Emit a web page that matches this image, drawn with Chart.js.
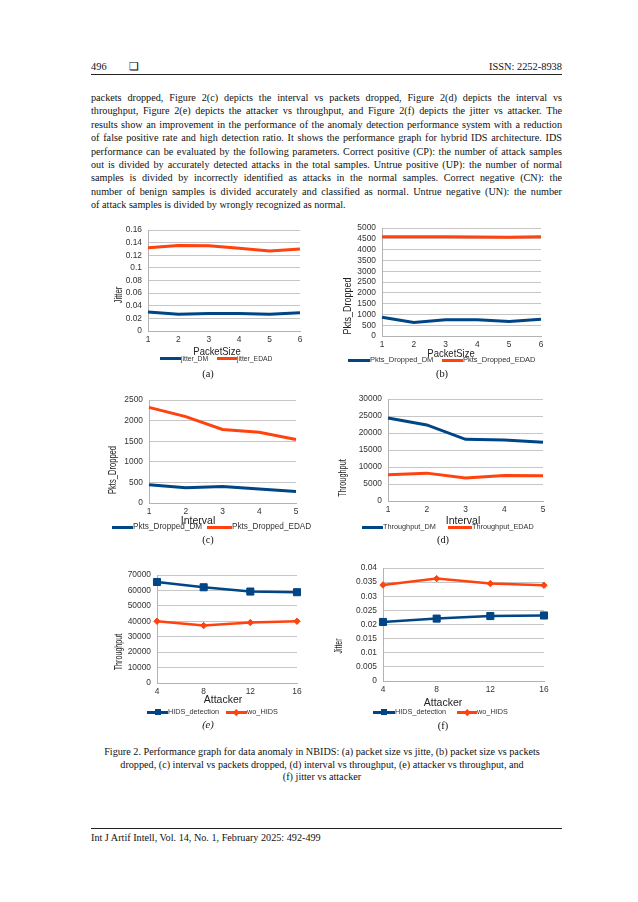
<!DOCTYPE html>
<html>
<head>
<meta charset="utf-8">
<script src="https://cdn.jsdelivr.net/npm/chart.js@4.4.1/dist/chart.umd.min.js"></script>
<style>
  html, body { margin: 0; padding: 0; background: #fff; }
  #page { position: relative; width: 638px; height: 902px; overflow: hidden; background: #fff; }
  .t { position: absolute; white-space: nowrap; line-height: 1; }
  .serif { font-family: "Liberation Serif", "Times New Roman", serif; color: #111; }
  .sans { font-family: "Liberation Sans", Arial, sans-serif; color: #222; }
  .para { position: absolute; left: 91px; width: 471px; font-family: "Liberation Serif", serif;
          font-size: 10.2px; line-height: 1; color: #111; white-space: nowrap; }
  .just { text-align: justify; text-align-last: justify; white-space: normal; }
  .rule { position: absolute; background: #222; }
  canvas { position: absolute; }
</style>
</head>
<body>
<div id="page">
  <div class="t serif" style="left:91px;top:62px;font-size:10.4px">496</div>
  <div class="t" style="left:129px;top:61px;font-size:11px;font-family:'DejaVu Sans'">❏</div>
  <div class="t serif" style="right:76px;top:62px;font-size:10.4px">ISSN: 2252-8938</div>
  <div class="rule" style="left:91px;top:74px;width:471px;height:1.3px"></div>

  <div id="body"></div>

  <canvas id="chA"></canvas>
  <canvas id="chB"></canvas>
  <canvas id="chC"></canvas>
  <canvas id="chD"></canvas>
  <canvas id="chE"></canvas>
  <canvas id="chF"></canvas>

  <div id="overlay"></div>

  <div class="t serif" style="left:322px;top:752px;font-size:10.2px;transform:translate(-50%,-50%)">Figure 2. Performance graph for data anomaly in NBIDS: (a) packet size vs jitte, (b) packet size vs packets</div>
  <div class="t serif" style="left:322px;top:764.5px;font-size:10.2px;transform:translate(-50%,-50%)">dropped, (c) interval vs packets dropped, (d) interval vs throughput, (e) attacker vs throughput, and</div>
  <div class="t serif" style="left:322px;top:777px;font-size:10.2px;transform:translate(-50%,-50%)">(f) jitter vs attacker</div>

  <div class="rule" style="left:91px;top:827.5px;width:471px;height:1.2px"></div>
  <div class="t serif" style="left:91px;top:833px;font-size:10.2px">Int J Artif Intell, Vol. 14, No. 1, February 2025: 492-499</div>
</div>

<script>
// ---- data ----
const packetSizes = ["1", "2", "3", "4", "5", "6"];
const jitterDM = [0.030, 0.0267, 0.0277, 0.0277, 0.0267, 0.0288];
const jitterEDAD = [0.132, 0.1355, 0.135, 0.131, 0.1266, 0.130];

const pktsDroppedDM_b = [872, 627, 749, 749, 673, 780];
const pktsDroppedEDAD_b = [4600, 4600, 4600, 4590, 4570, 4600];

const intervals = ["1", "2", "3", "4", "5"];
const pktsDroppedDM_c = [442, 370, 402, 338, 281];
const pktsDroppedEDAD_c = [2323, 2098, 1785, 1720, 1543];

const throughputDM = [24400, 22380, 18135, 17940, 17266];
const throughputEDAD = [7717, 8199, 6752, 7524, 7428];

const attackers = ["4", "8", "12", "16"];
const throughputHIDS = [65500, 62080, 59300, 58870];
const throughputWoHIDS = [40030, 37250, 39180, 40030];
const jitterHIDS = [0.0209, 0.0221, 0.0230, 0.0232];
const jitterWoHIDS = [0.0340, 0.03625, 0.0345, 0.0339];

const BLUE = "#004586";
const ORANGE = "#ff420e";
const GRID = "#c6c6c6";
const AXIS = "#b3b3b3";

// ---- body text ----
const bodyLines = [
  "packets dropped, Figure 2(c) depicts the interval vs packets dropped, Figure 2(d) depicts the interval vs",
  "throughput, Figure 2(e) depicts the attacker vs throughput, and Figure 2(f) depicts the jitter vs attacker. The",
  "results show an improvement in the performance of the anomaly detection performance system with a reduction",
  "of false positive rate and high detection ratio. It shows the performance graph for hybrid IDS architecture. IDS",
  "performance can be evaluated by the following parameters. Correct positive (CP): the number of attack samples",
  "out is divided by accurately detected attacks in the total samples. Untrue positive (UP): the number of normal",
  "samples is divided by incorrectly identified as attacks in the normal samples. Correct negative (CN): the",
  "number of benign samples is divided accurately and classified as normal. Untrue negative (UN): the number",
  "of attack samples is divided by wrongly recognized as normal."
];
const body = document.getElementById("body");
bodyLines.forEach((txt, i) => {
  const d = document.createElement("div");
  d.className = "para" + (i < bodyLines.length - 1 ? " just" : "");
  d.style.top = (93 + i * 13.4) + "px";
  d.textContent = txt;
  body.appendChild(d);
});

// ---- overlay text helpers ----
const overlay = document.getElementById("overlay");
function label(txt, x, y, size, cls, extra) {
  const d = document.createElement("div");
  d.className = "t " + cls;
  d.style.left = x + "px";
  d.style.top = y + "px";
  d.style.fontSize = size + "px";
  d.style.transform = "translate(-50%,-50%) " + (extra || "");
  d.textContent = txt;
  overlay.appendChild(d);
}
function legendItem(txt, color, x1, x2, y, size, marker) {
  const ln = document.createElement("div");
  ln.style.cssText = `position:absolute;left:${x1}px;top:${y - 1.5}px;width:${x2 - x1}px;height:3px;background:${color}`;
  overlay.appendChild(ln);
  if (marker) {
    const m = document.createElement("div");
    const s = marker === "rect" ? 6 : 4.5;
    m.style.cssText = `position:absolute;left:${(x1 + x2) / 2 - s / 2}px;top:${y - s / 2}px;width:${s}px;height:${s}px;background:${color}` +
      (marker === "rect" ? "" : ";transform:rotate(45deg)");
    overlay.appendChild(m);
  }
  const t = document.createElement("div");
  t.className = "t sans";
  t.style.cssText += `left:${x2}px;top:${y}px;font-size:${size}px;color:#333;transform:translateY(-50%)`;
  t.textContent = txt;
  overlay.appendChild(t);
}

// ---- charts ----
function makeChart(id, area, labels, sets, yMax, yStep) {
  const YW = 40, PT = 10, PR = 12, XH = 22;
  const cv = document.getElementById(id);
  const l = Math.round(area.l), t = Math.round(area.t);
  const w = Math.round(area.r) - l + YW + PR;
  const h = Math.round(area.b) - t + PT + XH;
  cv.width = w; cv.height = h;
  cv.style.left = (l - YW) + "px";
  cv.style.top = (t - PT) + "px";
  cv.style.width = w + "px";
  cv.style.height = h + "px";
  const tickFont = { family: "Liberation Sans", size: 8.4 };
  return new Chart(cv, {
    type: "line",
    data: { labels, datasets: sets },
    options: {
      responsive: false,
      animation: false,
      devicePixelRatio: 1,
      layout: { padding: { top: PT, right: PR, left: 0, bottom: 0 } },
      plugins: { legend: { display: false }, tooltip: { enabled: false } },
      elements: { line: { tension: 0 } },
      scales: {
        x: {
          offset: false,
          grid: { display: false, drawTicks: false },
          border: { display: true, color: AXIS },
          ticks: { padding: 4, color: "#333", font: tickFont, autoSkip: false, maxRotation: 0 },
          afterFit: s => { s.height = XH; }
        },
        y: {
          min: 0, max: yMax,
          grid: { color: GRID, drawTicks: false },
          border: { display: true, color: AXIS },
          ticks: { stepSize: yStep, autoSkip: false, padding: 6, color: "#333", font: tickFont,
                   callback: v => String(+Number(v).toFixed(4)) },
          afterFit: s => { s.width = YW; }
        }
      }
    }
  });
}
function plain(label, data, color, width) {
  return { label, data, borderColor: color, backgroundColor: color, borderWidth: width || 3, pointRadius: 0 };
}
function marked(label, data, color, style, r) {
  return { label, data, borderColor: color, backgroundColor: color, borderWidth: 2.5,
           pointStyle: style, pointRadius: r, pointBorderWidth: 1 };
}

// (a)
makeChart("chA", { l: 148, t: 229, r: 300, b: 331 }, packetSizes,
  [plain("jitter_DM", jitterDM, BLUE), plain("jitter_EDAD", jitterEDAD, ORANGE)], 0.16, 0.02);
label("Jitter", 119, 295, 11.5, "sans", "rotate(-90deg) scaleX(0.68)");
label("PacketSize", 217, 351, 10.5, "sans", "scaleX(0.9)");
legendItem("jitter_DM", BLUE, 160, 181, 358.5, 6.8);
legendItem("jitter_EDAD", ORANGE, 217, 237, 358.5, 6.8);
label("(a)", 208, 374, 10.4, "serif");

// (b)
makeChart("chB", { l: 382, t: 227, r: 541, b: 336 }, packetSizes,
  [plain("Pkts_Dropped_DM", pktsDroppedDM_b, BLUE), plain("Pkts_Dropped_EDAD", pktsDroppedEDAD_b, ORANGE)], 5000, 500);
label("Pkts_Dropped", 348, 306, 11.5, "sans", "rotate(-90deg) scaleX(0.78)");
label("PacketSize", 451, 352.5, 10.5, "sans", "scaleX(0.9)");
legendItem("Pkts_Dropped_DM", BLUE, 348, 370, 360, 7.5);
legendItem("Pkts_Dropped_EDAD", ORANGE, 442, 463, 360, 7.5);
label("(b)", 442, 374, 10.4, "serif");

// (c)
makeChart("chC", { l: 149, t: 399, r: 296, b: 503 }, intervals,
  [plain("Pkts_Dropped_DM", pktsDroppedDM_c, BLUE), plain("Pkts_Dropped_EDAD", pktsDroppedEDAD_c, ORANGE)], 2500, 500);
label("Pkts_Dropped", 113, 470, 11.5, "sans", "rotate(-90deg) scaleX(0.66)");
label("Interval", 198, 519.5, 10.5, "sans");
legendItem("Pkts_Dropped_DM", BLUE, 112, 133, 527, 8.2);
legendItem("Pkts_Dropped_EDAD", ORANGE, 207, 232, 527, 8.2);
label("(c)", 208, 540, 10.4, "serif");

// (d)
makeChart("chD", { l: 388, t: 398, r: 543, b: 501 }, intervals,
  [plain("Throughput_DM", throughputDM, BLUE), plain("Throughput_EDAD", throughputEDAD, ORANGE)], 30000, 5000);
label("Throughput", 343, 478, 11.5, "sans", "rotate(-90deg) scaleX(0.64)");
label("Interval", 463, 519.5, 10.5, "sans");
legendItem("Throughput_DM", BLUE, 362, 383, 527, 7.3);
legendItem("Throughput_EDAD", ORANGE, 448, 472, 527, 7.3);
label("(d)", 443, 540, 10.4, "serif");

// (e)
makeChart("chE", { l: 157, t: 574, r: 297, b: 683 }, attackers,
  [marked("HIDS_detection", throughputHIDS, BLUE, "rect", 5), marked("wo_HIDS", throughputWoHIDS, ORANGE, "rectRot", 3.2)], 70000, 10000);
label("Throughput", 119, 652, 11.5, "sans", "rotate(-90deg) scaleX(0.62)");
label("Attacker", 223, 698.5, 10.5, "sans");
legendItem("HIDS_detection", BLUE, 147, 168, 712, 7.3, "rect");
legendItem("wo_HIDS", ORANGE, 226, 247, 712, 7.3, "diamond");
label("(e)", 208, 725, 10.4, "serif", "skewX(-12deg)");

// (f)
makeChart("chF", { l: 383, t: 567, r: 544, b: 681 }, attackers,
  [marked("HIDS_detection", jitterHIDS, BLUE, "rect", 5), marked("wo_HIDS", jitterWoHIDS, ORANGE, "rectRot", 3.2)], 0.04, 0.005);
label("Jitter", 339, 646, 11.5, "sans", "rotate(-90deg) scaleX(0.6)");
label("Attacker", 443, 701.5, 10.5, "sans");
legendItem("HIDS_detection", BLUE, 373, 395, 712, 7.3, "rect");
legendItem("wo_HIDS", ORANGE, 457, 477, 712, 7.3, "diamond");
label("(f)", 443, 726, 10.4, "serif");
</script>
</body>
</html>
